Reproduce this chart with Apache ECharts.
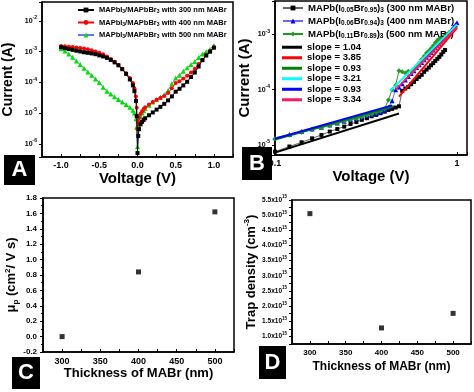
<!DOCTYPE html>
<html><head><meta charset="utf-8">
<script src="https://cdn.jsdelivr.net/npm/echarts@6/dist/echarts.min.js"></script>
<style>html,body{margin:0;padding:0;background:#fff}#c{width:474px;height:392px}</style>
</head><body><div id="c"></div>
<script>
// ---------- Panel A data (I-V, semi-log) ----------
const voltA = [-1.00,-0.95,-0.90,-0.85,-0.80,-0.75,-0.70,-0.65,-0.60,-0.55,-0.50,-0.45,-0.40,-0.35,-0.30,-0.25,-0.20,-0.15,-0.10,-0.06,-0.04,-0.02,-0.01,0.00,0.01,0.02,0.04,0.06,0.08,0.10,0.15,0.20,0.25,0.30,0.35,0.40,0.45,0.50,0.55,0.60,0.65,0.70,0.75,0.80,0.85,0.90,0.95,1.00];
const curA300 = [1.40e-3,1.30e-3,1.22e-3,1.15e-3,1.08e-3,1.02e-3,9.6e-4,9.2e-4,8.8e-4,8.3e-4,7.6e-4,7.0e-4,6.3e-4,5.4e-4,4.5e-4,3.6e-4,2.7e-4,1.9e-4,1.25e-4,8.0e-5,5.2e-5,2.5e-5,8e-6,5e-7,1.8e-6,3.0e-6,4.3e-6,5.2e-6,6.0e-6,6.8e-6,8.5e-6,1.05e-5,1.3e-5,1.6e-5,2.0e-5,2.6e-5,3.5e-5,5.0e-5,6.2e-5,8.0e-5,1.05e-4,1.5e-4,2.1e-4,3.3e-4,5.3e-4,7.5e-4,1.0e-3,1.35e-3];
const curA400 = [1.55e-3,1.50e-3,1.45e-3,1.42e-3,1.38e-3,1.33e-3,1.27e-3,1.20e-3,1.12e-3,1.02e-3,9.2e-4,8.2e-4,7.0e-4,5.8e-4,4.7e-4,3.7e-4,2.8e-4,2.0e-4,1.4e-4,9.5e-5,6.5e-5,3.5e-5,1.5e-5,3e-6,5e-6,7e-6,9.5e-6,1.15e-5,1.35e-5,1.55e-5,1.9e-5,2.3e-5,2.7e-5,3.1e-5,3.6e-5,4.5e-5,6.5e-5,9.5e-5,1.1e-4,1.35e-4,1.65e-4,2.1e-4,2.8e-4,4.0e-4,5.5e-4,8.0e-4,1.05e-3,1.4e-3];
const curA500 = [1.25e-3,1.05e-3,8.5e-4,6.6e-4,5.0e-4,3.8e-4,2.9e-4,2.2e-4,1.7e-4,1.3e-4,1.0e-4,7.0e-5,5.2e-5,4.2e-5,3.4e-5,2.8e-5,2.3e-5,1.9e-5,1.55e-5,1.25e-5,1.0e-5,6.5e-6,3.5e-6,8e-7,3.5e-6,5.5e-6,8e-6,1.0e-5,1.2e-5,1.4e-5,1.8e-5,2.3e-5,2.8e-5,3.3e-5,4.0e-5,5.5e-5,9e-5,1.4e-4,1.7e-4,2.3e-4,3.0e-4,3.8e-4,4.8e-4,6.5e-4,8.5e-4,1.0e-3,1.2e-3,1.6e-3];
const namesA = ['MAPbI3/MAPbBr3 with 300 nm MABr','MAPbI3/MAPbBr3 with 400 nm MABr','MAPbI3/MAPbBr3 with 500 nm MABr'];

// ---------- Panel B data (log-log) ----------
const voltB300 = [0.10,0.12,0.14,0.16,0.18,0.20,0.22,0.24,0.26,0.28,0.30,0.32,0.34,0.36,0.38,0.40,0.42,0.44,0.46,0.48,0.50,0.52,0.54,0.56,0.58,0.60,0.62,0.64,0.66,0.68,0.70,0.72,0.74,0.76,0.78,0.80,0.82,0.84,0.86];
const curB300 = [7.6e-6,9.4e-6,1.12e-5,1.32e-5,1.52e-5,1.75e-5,1.95e-5,2.15e-5,2.4e-5,2.6e-5,2.85e-5,3.05e-5,3.3e-5,3.5e-5,3.75e-5,4.0e-5,4.3e-5,4.5e-5,4.75e-5,5.0e-5,9.5e-5,1.05e-4,1.12e-4,1.25e-4,1.38e-4,1.55e-4,1.7e-4,1.85e-4,2.1e-4,2.3e-4,2.5e-4,2.75e-4,3.0e-4,3.3e-4,3.6e-4,3.9e-4,4.3e-4,4.8e-4,5.2e-4];
const voltB400 = [0.10,0.12,0.14,0.16,0.18,0.20,0.22,0.24,0.26,0.28,0.30,0.32,0.34,0.36,0.38,0.40,0.42,0.44,0.46,0.48,0.50,0.52,0.54,0.56,0.58,0.60,0.62,0.64,0.66,0.68,0.70,0.72,0.74,0.76,0.78,0.80,0.82,0.84,0.86,0.88,0.90,0.92,0.94,0.96,0.98,1.00];
const curB400 = [1.35e-5,1.55e-5,1.75e-5,1.95e-5,2.1e-5,2.3e-5,2.5e-5,2.7e-5,2.9e-5,3.05e-5,3.25e-5,3.45e-5,3.6e-5,3.8e-5,4.0e-5,4.25e-5,4.8e-5,6.3e-5,1.0e-4,1.12e-4,1.28e-4,1.5e-4,1.72e-4,1.95e-4,2.2e-4,2.5e-4,2.8e-4,3.1e-4,3.45e-4,3.85e-4,4.25e-4,4.7e-4,5.2e-4,5.7e-4,6.3e-4,6.9e-4,7.5e-4,8.2e-4,9.0e-4,9.8e-4,1.06e-3,1.15e-3,1.25e-3,1.36e-3,1.48e-3,1.62e-3];
const voltB500 = [0.10,0.12,0.14,0.16,0.18,0.20,0.22,0.24,0.26,0.28,0.30,0.32,0.34,0.36,0.38,0.40,0.42,0.44,0.46,0.48,0.50,0.52,0.54,0.56,0.58,0.60,0.62,0.64,0.66,0.68,0.70,0.72,0.74,0.76,0.78,0.80,0.82,0.84,0.86,0.88,0.90,0.92,0.94,0.96];
const curB500 = [1.3e-5,1.5e-5,1.7e-5,1.9e-5,2.05e-5,2.25e-5,2.45e-5,2.65e-5,2.85e-5,3.0e-5,3.2e-5,3.45e-5,3.65e-5,3.85e-5,4.1e-5,4.5e-5,6.5e-5,1.0e-4,1.2e-4,2.2e-4,2.1e-4,2.0e-4,2.15e-4,2.1e-4,2.3e-4,2.6e-4,3.0e-4,3.5e-4,4.0e-4,4.6e-4,5.0e-4,5.5e-4,6.2e-4,7.0e-4,7.8e-4,8.3e-4,8.6e-4,9.0e-4,9.5e-4,1.0e-3,1.05e-3,1.1e-3,1.15e-3,1.2e-3];
const namesB = ['MAPb(I0.05Br0.95)3 (300 nm MABr)','MAPb(I0.06Br0.94)3 (400 nm MABr)','MAPb(I0.11Br0.89)3 (500 nm MABr)'];
// fitted lines: [V start, I start, V end, I end]
const slopeLabels = ['slope = 1.04','slope = 3.85','slope = 0.93','slope = 3.21','slope = 0.93\u200b','slope = 3.34'];
const slopeColors = ['#000000','#ff0000','#008000','#00ffff','#0000ff','#ff1a66'];
const fitV0 = [0.10,0.48,0.10,0.43,0.10,0.46];
const fitI0 = [7.3e-6,7.5e-5,1.25e-5,9.5e-5,1.3e-5,1.0e-4];
const fitV1 = [0.48,1.00,0.45,1.00,0.44,1.00];
const fitI1 = [3.7e-5,1.3e-3,5.0e-5,1.5e-3,5.2e-5,1.35e-3];

// ---------- Panel C / D data ----------
const thickness = [300,400,500];
const mobility = [0.0,0.84,1.62];
const trapDensity = [5.05e15,1.28e15,1.76e15];

const F = "'Liberation Sans', Arial, Helvetica, sans-serif";
const zip = (a,b) => a.map((v,i)=>[v,b[i]]);
const isPow10 = v => { const l=Math.log10(v); return Math.abs(l-Math.round(l))<1e-6; };
const powLab = v => isPow10(v) ? '{b|10}{s|'+Math.round(Math.log10(v))+'}' : '';
const supRich = (base, sup) => ({
  b:{fontSize:base,fontWeight:'bold',color:'#000',fontFamily:F},
  s:{fontSize:sup,fontWeight:'bold',color:'#000',fontFamily:F,padding:[0,0,sup+1,0]}
});

const chart = echarts.init(document.getElementById('c'));
const frame = {show:true,onZero:false,lineStyle:{color:'#000',width:1.5}};
const tickIn = {show:true,inside:true,length:3,lineStyle:{color:'#000',width:1}};
const tickOut = {show:true,inside:false,length:3,lineStyle:{color:'#000',width:1}};

const series = [];
const markA = [['rect','#000','#000',4],['circle','#ff0000','#ff0000',4],['triangle','#00dd00','#7070ff',5]];
[curA300,curA400,curA500].forEach((c,i)=>{
  series.push({type:'line',name:namesA[i],xAxisIndex:0,yAxisIndex:0,data:zip(voltA,c),
    symbol:markA[i][0],symbolSize:markA[i][3],showAllSymbol:true,
    itemStyle:{color:markA[i][1]},lineStyle:{color:markA[i][2],width:1},z:3-i+2});
});
const markB = [['rect','#000','#666',4],['triangle','#0000ff','#6a6aff',5],['diamond','#229922','#229922',5]];
[[voltB300,curB300],[voltB400,curB400],[voltB500,curB500]].forEach((d,i)=>{
  series.push({type:'line',name:namesB[i],xAxisIndex:1,yAxisIndex:1,data:zip(d[0],d[1]),
    symbol:markB[i][0],symbolSize:markB[i][3],showAllSymbol:true,
    itemStyle:{color:markB[i][1]},lineStyle:{color:markB[i][2],width:1},z:3});
});
slopeLabels.forEach((n,i)=>{
  series.push({type:'line',name:n,xAxisIndex:1,yAxisIndex:1,
    data:[[fitV0[i],fitI0[i]],[fitV1[i],fitI1[i]]],symbol:'none',
    itemStyle:{color:slopeColors[i]},lineStyle:{color:slopeColors[i],width:2},z:4});
});
series.push({type:'scatter',xAxisIndex:2,yAxisIndex:2,data:zip(thickness,mobility),symbol:'rect',symbolSize:5,itemStyle:{color:'#000'}});
series.push({type:'scatter',xAxisIndex:3,yAxisIndex:3,data:zip(thickness,trapDensity),symbol:'rect',symbolSize:5,itemStyle:{color:'#000'}});

const gridBase = {show:true,borderColor:'#000',borderWidth:1.5,backgroundColor:'transparent'};
const nameStyle = (sz, rich) => Object.assign({fontSize:sz,fontWeight:'bold',color:'#000',fontFamily:F}, rich?{rich}:{});

const letter = (x,y,w,h,t) => ({type:'group',z:100,children:[
  {type:'rect',shape:{x:x,y:y,width:w,height:h},style:{fill:'#000'}},
  {type:'text',x:x+w/2,y:y+h/2,style:{text:t,fill:'#fff',font:'bold 22px '+F,align:'center',verticalAlign:'middle'}}
]});

chart.setOption({
  animation:false,
  backgroundColor:'#fff',
  grid:[
    Object.assign({left:39,top:2,width:194,height:155},gridBase),
    Object.assign({left:275,top:1,width:192,height:154},gridBase),
    Object.assign({left:43,top:198,width:191,height:154},gridBase),
    Object.assign({left:292,top:200,width:179,height:144},gridBase)
  ],
  xAxis:[
    {gridIndex:0,type:'value',min:-1.25,max:1.25,interval:0.25,axisLine:frame,axisTick:tickIn,splitLine:{show:false},
      axisLabel:{fontSize:9,fontWeight:'bold',color:'#000',fontFamily:F,margin:4,
        formatter:v=>Math.abs(v*2-Math.round(v*2))<1e-6?v.toFixed(1):''},
      name:'Voltage (V)',nameLocation:'middle',nameGap:12,nameTextStyle:nameStyle(15)},
    {gridIndex:1,type:'log',logBase:10,min:0.1,max:1.135,axisLine:frame,axisTick:tickIn,splitLine:{show:false},
      axisLabel:{fontSize:9,fontWeight:'bold',color:'#000',fontFamily:F,margin:4,
        formatter:v=>isPow10(v)?(v<0.5?'0.1':'1'):''},
      name:'Voltage (V)',nameLocation:'middle',nameGap:14,nameTextStyle:nameStyle(15)},
    {gridIndex:2,type:'value',min:275,max:525,interval:25,axisLine:frame,axisTick:tickIn,splitLine:{show:false},
      axisLabel:{fontSize:9,fontWeight:'bold',color:'#000',fontFamily:F,margin:5,
        formatter:v=>(v%50===0)?String(v):''},
      name:'Thickness of MABr (nm)',nameLocation:'middle',nameGap:15,nameTextStyle:nameStyle(13)},
    {gridIndex:3,type:'value',min:275,max:525,interval:25,axisLine:frame,axisTick:tickIn,splitLine:{show:false},
      axisLabel:{fontSize:8,fontWeight:'bold',color:'#000',fontFamily:F,margin:5,
        formatter:v=>(v%50===0)?String(v):''},
      name:'Thickness of MABr (nm)',nameLocation:'middle',nameGap:17,nameTextStyle:nameStyle(12)}
  ],
  yAxis:[
    {gridIndex:0,type:'log',logBase:10,min:Math.pow(10,-6.43),max:Math.pow(10,-1.38),axisLine:frame,axisTick:tickOut,splitLine:{show:false},
      axisLabel:{formatter:powLab,rich:supRich(7,5),margin:5},
      name:'Current (A)',nameLocation:'middle',nameGap:27,nameTextStyle:nameStyle(14)},
    {gridIndex:1,type:'log',logBase:10,min:Math.pow(10,-5.18),max:Math.pow(10,-2.40),axisLine:frame,axisTick:tickOut,splitLine:{show:false},
      axisLabel:{formatter:powLab,rich:supRich(7,5),margin:5},
      name:'Current (A)',nameLocation:'middle',nameGap:23,nameTextStyle:nameStyle(15)},
    {gridIndex:2,type:'value',min:-0.2,max:1.8,interval:0.2,axisLine:frame,axisTick:tickOut,splitLine:{show:false},
      minorTick:{show:true,splitNumber:2,length:2,lineStyle:{color:'#000'}},
      axisLabel:{fontSize:8,fontWeight:'bold',color:'#000',fontFamily:F,margin:6,formatter:v=>v.toFixed(1)},
      name:'μ{s|p} (cm{u|2}/ V s)',nameLocation:'middle',nameGap:20,
      nameTextStyle:nameStyle(13,{
        s:{fontSize:8,fontWeight:'bold',fontFamily:F,color:'#000',padding:[7,0,0,0]},
        u:{fontSize:8,fontWeight:'bold',fontFamily:F,color:'#000',padding:[0,0,8,0]}})},
    {gridIndex:3,type:'value',min:0.75e15,max:5.5e15,interval:0.25e15,axisLine:frame,axisTick:tickOut,splitLine:{show:false},
      axisLabel:{margin:5,rich:supRich(6.5,4.5),
        formatter:v=>{const k=v/0.5e15; if(Math.abs(k-Math.round(k))>1e-6) return ''; return '{b|'+(v/1e15).toFixed(1)+'x10}{s|15}';}},
      name:'Trap density (cm{u|-3})',nameLocation:'middle',nameGap:33,
      nameTextStyle:nameStyle(13,{u:{fontSize:8,fontWeight:'bold',fontFamily:F,color:'#000',padding:[0,0,8,0]}})}
  ],
  legend:[
    {data:namesA,orient:'vertical',left:72,top:1,itemWidth:16,itemHeight:6,itemGap:4,
      formatter:n=>n.replace('I3/','I{s|3}/').replace('Br3 ','Br{s|3} '),
      textStyle:{fontSize:7.5,fontWeight:'bold',color:'#000',fontFamily:F,
        rich:{s:{fontSize:5,fontWeight:'bold',fontFamily:F,color:'#000',padding:[4,0,0,0]}}}},
    {data:namesB,orient:'vertical',left:277,top:-2,itemWidth:20,itemHeight:6,itemGap:2,
      formatter:n=>n.replace(/\(I([\d.]+)Br([\d.]+)\)3/,'(I{s|$1}Br{s|$2}){s|3}'),
      textStyle:{fontSize:9.6,fontWeight:'bold',color:'#000',fontFamily:F,
        rich:{s:{fontSize:6.5,fontWeight:'bold',fontFamily:F,color:'#000',padding:[5,0,0,0]}}}},
    {data:slopeLabels,orient:'vertical',left:277,top:37,itemWidth:20,itemHeight:3,itemGap:0,icon:'rect',
      textStyle:{fontSize:9.5,fontWeight:'bold',color:'#000',fontFamily:F,lineHeight:10.5}}
  ],
  graphic:[letter(4,155,31,30,'A'),letter(242,147,30,33,'B'),letter(12,357,28,32,'C'),letter(259,346,27,33,'D')],
  series:series
});
</script></body></html>
